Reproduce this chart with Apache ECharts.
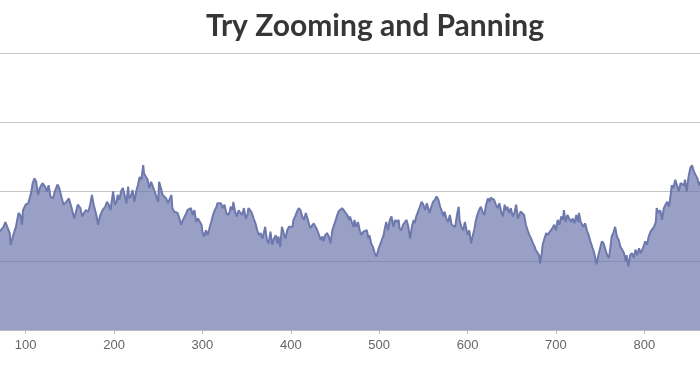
<!DOCTYPE html>
<html>
<head>
<meta charset="utf-8">
<script src="https://cdn.jsdelivr.net/npm/echarts@6/dist/echarts.min.js"></script>
<style>html,body{margin:0;padding:0;background:#fff;}#c{width:700px;height:366px;}</style>
</head>
<body>
<div id="c"></div>
<script>
const titleText = "Try Zooming and Panning";
const xs = [68,71,75,77,79,82,83,86,89,92,94,96,97,100,103,106,108,110,112,114,116,119,122,124,126,128,131,133,136,138,141,143,146,149,152,155,157,159,162,164,166,168,171,173,175,177,180,182,184,187,190,192,194,196,199,201,203,
204,206,208,210,212,214,216,217,219,221,223,225,227,229,231,233,234,236,238,240,242,244,246,248,250,251,253,255,257,259,261,263,265,266,268,270,272,274,276,278,280,282,283,285,287,289,291,293,295,297,299,300,302,304,306,308,310,312,314,316,317,319,321,323,325,327,329,331,332,334,
335,337,339,341,343,345,347,349,351,352,354,356,358,360,362,364,366,368,369,371,373,375,377,379,381,383,385,386,388,390,392,394,396,398,400,402,403,405,407,409,411,413,415,417,419,420,422,424,426,428,430,432,434,436,437,439,441,443,445,447,449,451,452,454,456,458,460,462,464,466,
467,469,471,472,474,476,478,480,482,484,486,488,489,491,493,495,497,499,501,503,505,506,508,510,512,514,516,518,520,522,523,525,527,529,531,533,535,537,539,540,542,544,546,548,550,552,554,556,557,559,561,563,565,567,569,571,573,574,576,578,580,582,584,586,588,590,591,593,595,597,
598,600,602,604,606,608,609,611,613,615,617,619,621,623,625,626,628,630,632,634,636,638,640,642,643,645,647,649,651,653,655,657,659,660,662,664,666,668,670,672,674,676,677,679,681,682,684,685,687,689,691,692,694,696,698,700,702,704,706,708,709,711,713,715,717,719,721,723,725,726,728,
730,731,733,735,737,739,741,743,745,746,748,750,752,754,756,758,760,762,763,765,767,769,771,773,775,777,779,780,782,784,786,788,790,792,794,796,797,799,801,803,805,807,809,811,813,814,816,818,820,822,824,826,828,830,831,833,835,837,839,841,843,845,846,848,850,852,854,856,858,860,862,863,866];
const ys = [140,143,149,156,154,140,123,137,149,169,166,152,173,181,183,197,212,219,214,195,205,212,207,200,209,193,190,200,210,205,190,181,185,190,176,161,159,181,176,164,169,173,171,181,195,181,166,152,164,173,178,185,181,173,200,181,185,
195,188,200,205,195,183,207,190,193,202,185,200,209,221,217,238,226,224,217,205,214,207,200,202,185,214,205,195,197,190,183,185,195,176,171,173,169,161,152,159,164,169,173,171,176,166,173,156,161,159,152,142,135,144,137,147,156,166,173,178,183,181,183,176,181,169,166,171,178,173,
185,171,164,173,169,166,176,161,166,176,173,169,161,154,144,137,140,132,137,149,130,125,142,123,132,137,125,135,120,149,140,132,144,149,147,149,159,164,171,176,173,164,159,169,161,156,147,149,154,152,144,137,130,135,128,137,140,135,125,144,152,159,164,171,173,176,173,169,166,159,
164,156,149,159,149,156,144,137,142,140,144,132,137,125,120,111,106,116,123,130,137,144,156,144,159,164,149,159,156,159,147,144,152,154,159,149,132,149,159,154,164,171,178,185,181,173,183,181,169,178,185,188,193,188,178,176,164,171,161,156,166,152,154,149,166,178,159,149,144,156,
154,137,144,125,137,147,156,166,173,178,171,166,181,190,185,191,193,188,181,176,183,171,164,181,173,178,169,176,164,169,181,161,159,171,171,166,152,144,137,132,125,120,116,116,108,96,111,123,132,140,137,140,142,147,152,144,159,152,164,159,173,156,166,164,156,161,154,166,156,169,156,
156,149,154,144,137,128,120,113,111,95,108,118,128,125,116,108,104,123,135,140,149,135,130,120,116,111,99,108,92,108,111,104,116,108,118,111,113,120,128,123,135,142,140,149,156,176,169,173,159,176,181,185,178,197,209,205,217,209,200,212,214,209,217,200,221,234,238,229,224,219,209,214,205];
const xMin = 71, xMax = 863;
const yMin = 0, yMax = 400, yStep = 100;

const data = xs.map((x, i) => [x, ys[i]]);
const chart = echarts.init(document.getElementById('c'), null, {renderer: 'canvas'});
chart.setOption({
  animation: false,
  backgroundColor: '#ffffff',
  graphic: [{
    type: 'text', x: 375, y: 11,
    style: {text: titleText, fill: '#363636', font: 'bold 30px Lato', align: 'center', verticalAlign: 'top'}
  }],
  grid: {left: 0, right: 0, top: 53, bottom: 36, containLabel: false},
  xAxis: {
    type: 'value', min: xMin, max: xMax, splitNumber: 8, minInterval: 100, maxInterval: 100,
    axisLine: {show: true, lineStyle: {color: '#bbbbbb', width: 1}},
    axisTick: {show: true, length: 4, lineStyle: {color: '#bbbbbb'}},
    axisLabel: {showMinLabel: false, showMaxLabel: false, color: '#666666', fontSize: 13, fontFamily: 'Liberation Sans', margin: 9},
    splitLine: {show: false}
  },
  yAxis: {
    type: 'value', min: yMin, max: yMax, interval: yStep,
    axisLine: {show: false}, axisTick: {show: false}, axisLabel: {show: false},
    splitLine: {show: true, lineStyle: {color: '#c4c4c4', width: 1}}
  },
  series: [{
    type: 'line', data: data, showSymbol: false, symbol: 'none',
    lineStyle: {color: '#6D78AD', width: 2},
    itemStyle: {color: '#6D78AD'},
    areaStyle: {color: '#6D78AD', opacity: 0.7}
  }]
});
</script>
</body>
</html>
